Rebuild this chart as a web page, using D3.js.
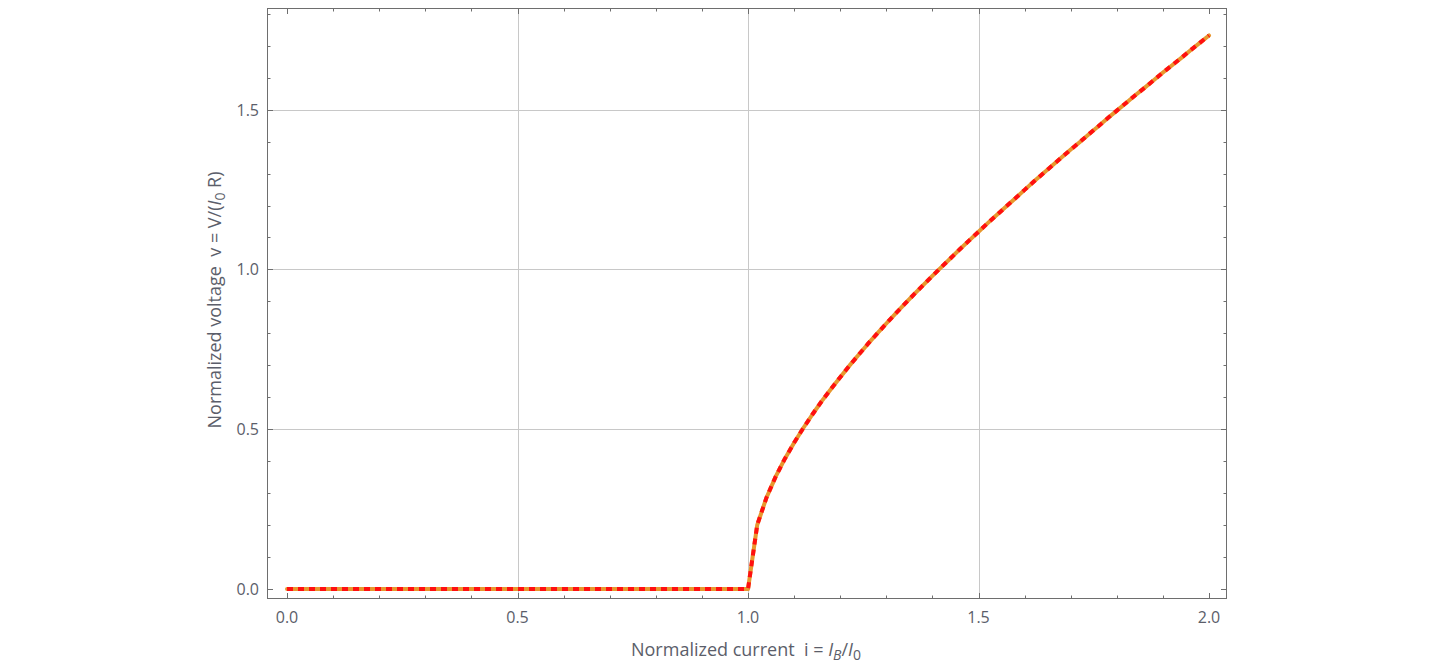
<!DOCTYPE html>
<html>
<head>
<meta charset="utf-8">
<script src="https://cdn.jsdelivr.net/npm/d3@7"></script>
<style>
	body { margin: 0; background: #fff; }
	svg text { font-family: "Open Sans", "Noto Sans", sans-serif; white-space: pre; }
</style>
</head>
<body>
<svg id="chart" width="1450" height="672"></svg>
<script>
// normalized current i (x) and time averaged voltage v (y)
var currents = [0.0, 0.1, 0.2, 0.3, 0.4, 0.5, 0.6, 0.7, 0.8, 0.9, 1.0,
	1.02, 1.04, 1.06, 1.08, 1.10, 1.12, 1.14, 1.16, 1.18, 1.20,
	1.22, 1.24, 1.26, 1.28, 1.30, 1.32, 1.34, 1.36, 1.38, 1.40,
	1.42, 1.44, 1.46, 1.48, 1.50, 1.52, 1.54, 1.56, 1.58, 1.60,
	1.62, 1.64, 1.66, 1.68, 1.70, 1.72, 1.74, 1.76, 1.78, 1.80,
	1.82, 1.84, 1.86, 1.88, 1.90, 1.92, 1.94, 1.96, 1.98, 2.00];
var voltages = [0, 0, 0, 0, 0, 0, 0, 0, 0, 0, 0,
	0.201, 0.286, 0.352, 0.408, 0.458, 0.504, 0.547, 0.588, 0.626, 0.663,
	0.699, 0.733, 0.767, 0.799, 0.831, 0.862, 0.892, 0.922, 0.951, 0.980,
	1.008, 1.036, 1.064, 1.091, 1.118, 1.145, 1.171, 1.197, 1.223, 1.249,
	1.275, 1.300, 1.325, 1.350, 1.375, 1.399, 1.424, 1.448, 1.473, 1.497,
	1.521, 1.545, 1.568, 1.592, 1.616, 1.639, 1.662, 1.686, 1.709, 1.732];
var xTicks = [0.0, 0.5, 1.0, 1.5, 2.0];
var yTicks = [0.0, 0.5, 1.0, 1.5];

var svg = d3.select('#chart');
var pLeft = 267, pRight = 1227, pTop = 8, pBottom = 599;
var textColor = '#5b5e6a', frameColor = '#6e6e6e';

var x = d3.scaleLinear().domain([-0.0434, 2.039]).range([pLeft, pRight]);
var y = d3.scaleLinear().domain([-0.031, 1.818]).range([pBottom, pTop]);

var xMinor = d3.range(0, 21).map(function (d) { return d / 10; });
var yMinor = d3.range(0, 19).map(function (d) { return d / 10; });

// grid
var grid = svg.append('g').attr('stroke', '#c8c8c8').attr('stroke-width', 1);
[0.5, 1.0, 1.5].forEach(function (v) {
	var px = Math.round(x(v)) + 0.5, py = Math.round(y(v)) + 0.5;
	grid.append('line').attr('x1', px).attr('x2', px).attr('y1', pTop).attr('y2', pBottom);
	grid.append('line').attr('x1', pLeft).attr('x2', pRight).attr('y1', py).attr('y2', py);
});

// data line: orange under, red dashed on top
var line = d3.line()
	.x(function (d) { return x(d[0]); })
	.y(function (d) { return y(d[1]); });
var points = d3.zip(currents, voltages);

svg.append('path').datum(points)
	.attr('d', line).attr('fill', 'none')
	.attr('stroke', '#e8982e').attr('stroke-width', 4)
	.attr('stroke-linejoin', 'round').attr('stroke-linecap', 'round');
svg.append('path').datum(points)
	.attr('d', line).attr('fill', 'none')
	.attr('stroke', '#ff1010').attr('stroke-width', 4)
	.attr('stroke-dasharray', '6,5');

// frame with inward ticks on all four sides
function isMajor(v) { return Math.abs(v * 2 - Math.round(v * 2)) < 1e-6; }

var frame = svg.append('g').attr('stroke', frameColor).attr('stroke-width', 1);
frame.append('rect').attr('x', pLeft + 0.5).attr('y', pTop + 0.5)
	.attr('width', pRight - pLeft - 1).attr('height', pBottom - pTop - 1).attr('fill', 'none');

xMinor.forEach(function (v) {
	var len = isMajor(v) ? 6 : 3.5, px = Math.round(x(v)) + 0.5;
	frame.append('line').attr('x1', px).attr('x2', px).attr('y1', pBottom).attr('y2', pBottom - len);
	frame.append('line').attr('x1', px).attr('x2', px).attr('y1', pTop).attr('y2', pTop + len);
});
yMinor.forEach(function (v) {
	var len = isMajor(v) ? 6 : 3.5, py = Math.round(y(v)) + 0.5;
	frame.append('line').attr('x1', pLeft).attr('x2', pLeft + len).attr('y1', py).attr('y2', py);
	frame.append('line').attr('x1', pRight).attr('x2', pRight - len).attr('y1', py).attr('y2', py);
});

// tick labels
svg.append('g').selectAll('text').data(xTicks).join('text')
	.attr('x', function (d) { return x(d); })
	.attr('y', pBottom + 24)
	.attr('text-anchor', 'middle')
	.attr('font-size', 16).attr('fill', textColor)
	.text(function (d) { return d.toFixed(1); });

svg.append('g').selectAll('text').data(yTicks).join('text')
	.attr('x', pLeft - 8)
	.attr('y', function (d) { return y(d) + 6; })
	.attr('text-anchor', 'end')
	.attr('font-size', 16).attr('fill', textColor)
	.text(function (d) { return d.toFixed(1); });

// axis titles
var xt = svg.append('text')
	.attr('x', 746).attr('y', 656)
	.attr('text-anchor', 'middle')
	.attr('font-size', 18).attr('fill', textColor);
xt.append('tspan').text('Normalized current  i = ');
xt.append('tspan').attr('font-style', 'italic').text('I');
xt.append('tspan').attr('font-style', 'italic').attr('font-size', 14).attr('dy', 4).text('B');
xt.append('tspan').attr('dy', -4).text('/');
xt.append('tspan').attr('font-style', 'italic').text('I');
xt.append('tspan').attr('font-size', 14).attr('dy', 4).text('0');

var yt = svg.append('text')
	.attr('transform', 'translate(221,300) rotate(-90)')
	.attr('text-anchor', 'middle')
	.attr('font-size', 18).attr('fill', textColor);
yt.append('tspan').text('Normalized voltage  v = V/(');
yt.append('tspan').attr('font-style', 'italic').text('I');
yt.append('tspan').attr('font-size', 14).attr('dy', 4).text('0');
yt.append('tspan').attr('dy', -4).text(' R)');
</script>
</body>
</html>
